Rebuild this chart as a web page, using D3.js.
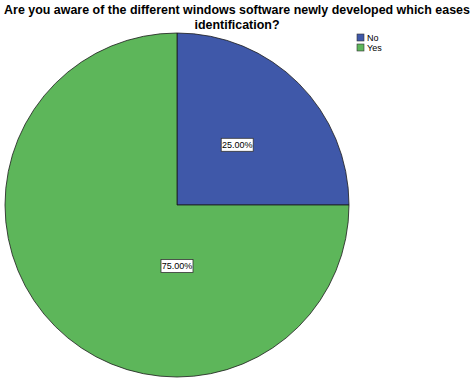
<!DOCTYPE html>
<html>
<head>
<meta charset="utf-8">
<script src="https://cdn.jsdelivr.net/npm/d3@7"></script>
<style>
body { margin: 0; background: #fff; }
text { font-family: "Liberation Sans", Arial, sans-serif; }
</style>
</head>
<body>
<div id="chart"></div>
<script>
var categories = ["No", "Yes"];
var values = [25, 75];
var colors = ["#3f58a9", "#5db65a"];
var titleLines = ["Are you aware of the different windows software newly developed which eases", "identification?"];

var width = 474, height = 381;
var svg = d3.select("#chart").append("svg")
	.attr("width", width)
	.attr("height", height);

// title, squeezed horizontally so the long first line fits like the original
var titleG = svg.append("g");
var titles = titleG.selectAll("text")
	.data(titleLines)
	.enter().append("text")
	.attr("x", 0)
	.attr("y", function(d, i) { return 14.5 + i * 14.5; })
	.attr("text-anchor", "middle")
	.style("font-size", "13px")
	.style("font-weight", "bold")
	.text(function(d) { return d; });
var w1 = titles.node().getComputedTextLength();
var sx = Math.min(1, 466 / w1);
titleG.attr("transform", "translate(237,0) scale(" + sx + ",1)");

var cx = 177, cy = 205, r = 172;
var g = svg.append("g").attr("transform", "translate(" + cx + "," + cy + ")");

var pie = d3.pie().sort(null).value(function(d) { return d; });
var arcs = pie(values);
var arc = d3.arc().innerRadius(0).outerRadius(r);

g.selectAll(".slice")
	.data(arcs)
	.enter().append("path")
	.attr("class", "slice")
	.attr("d", arc)
	.attr("fill", function(d, i) { return colors[i]; })
	.attr("stroke", "#1a1a1a")
	.attr("stroke-width", 0.8);

// labels (SPSS places them roughly at the slice centre)
var labelArc = d3.arc().innerRadius(0).outerRadius(r * 0.99);
var labelPos = function(d, i) {
	if (i == 0) return labelArc.centroid(d);
	return [0, 61];
};
var total = d3.sum(values);
var lab = g.selectAll(".lab")
	.data(arcs)
	.enter().append("g")
	.attr("class", "lab")
	.attr("transform", function(d, i) { return "translate(" + labelPos(d, i) + ")"; });

lab.append("rect")
	.attr("x", -16).attr("y", -6.5)
	.attr("width", 32).attr("height", 13)
	.attr("fill", "#fff")
	.attr("stroke", "#333")
	.attr("stroke-width", 0.8);

lab.append("text")
	.attr("text-anchor", "middle")
	.attr("dy", "0.35em")
	.style("font-size", "9px")
	.text(function(d) { return (d.data / total * 100).toFixed(2) + "%"; });

// legend
var leg = svg.append("g").attr("transform", "translate(357,34)");
var item = leg.selectAll(".item")
	.data(categories)
	.enter().append("g")
	.attr("class", "item")
	.attr("transform", function(d, i) { return "translate(0," + i * 10 + ")"; });

item.append("rect")
	.attr("width", 7).attr("height", 7)
	.attr("fill", function(d, i) { return colors[i]; })
	.attr("stroke", "#333")
	.attr("stroke-width", 0.6);

item.append("text")
	.attr("x", 10)
	.attr("y", 3.5)
	.attr("dy", "0.35em")
	.style("font-size", "9px")
	.text(function(d) { return d; });
</script>
</body>
</html>
